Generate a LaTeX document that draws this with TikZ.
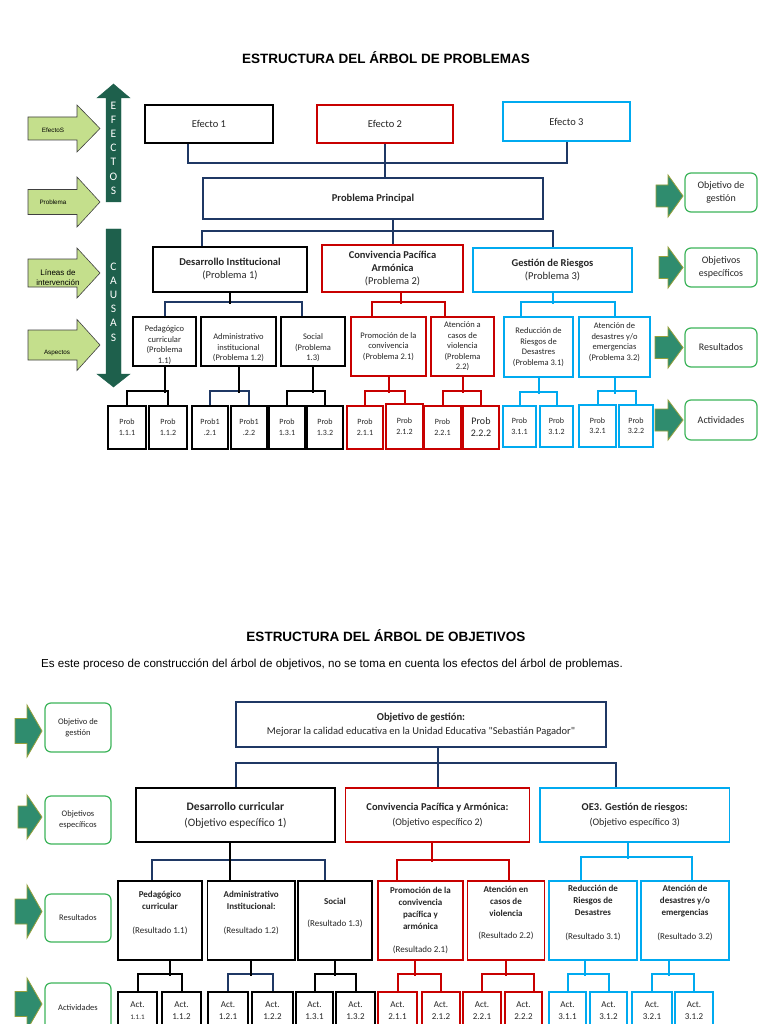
\documentclass[tikz,border=0pt]{standalone}
\usepackage{fontspec}
\setmainfont{Carlito}[Ligatures=TeXOff]
\newfontfamily\arialfont{Liberation Sans}

\definecolor{navy}{RGB}{31,56,100}
\definecolor{treered}{RGB}{200,0,0}
\definecolor{treeblue}{RGB}{0,170,240}
\definecolor{lightgreen}{RGB}{196,223,140}
\definecolor{darkgreen}{RGB}{30,96,76}
\definecolor{tealgreen}{RGB}{47,140,110}
\definecolor{olivegreen}{RGB}{150,160,60}
\definecolor{boxgreen}{RGB}{60,180,90}

\tikzset{
  dims/.style 2 args={minimum width=#1pt, minimum height=#2pt},
  basebox/.style={line width=1.5pt, align=center, inner sep=1pt, text=black!85},
  blackbox/.style={basebox, draw=black},
  redbox/.style={basebox, draw=treered},
  bluebox/.style={basebox, draw=treeblue},
  navybox/.style={basebox, draw=navy},
  greenbox/.style={draw=boxgreen, line width=1.2pt, rounded corners=6pt, align=center, inner sep=1pt, text=black!85},
  blackline/.style={draw=black, line width=2pt},
  navyline/.style={draw=navy, line width=2pt},
  redline/.style={draw=treered, line width=2pt},
  blueline/.style={draw=treeblue, line width=2pt},
  lightarrow/.style={fill=lightgreen, draw=black!75, line width=0.6pt},
  darkarrow/.style={fill=darkgreen, draw=darkgreen},
  tealarrow/.style={fill=tealgreen, draw=olivegreen, line width=0.8pt},
  letters/.style={text=white, align=center, inner sep=0pt, font=\fontsize{11.5}{14.2}\selectfont},
  titletext/.style={font=\arialfont\bfseries\fontsize{13.5}{16}\selectfont},
  fbig/.style={font=\fontsize{10.5}{13}\selectfont},
  fmid/.style={font=\fontsize{8.5}{10.5}\selectfont},
  fprob/.style={font=\fontsize{8}{10.5}\selectfont},
  fres/.style={font=\fontsize{9}{12}\selectfont},
  fside/.style={font=\fontsize{10}{12.5}\selectfont},
  fsmallside/.style={font=\fontsize{8.5}{11}\selectfont},
}

\begin{document}
\begin{tikzpicture}[x=1pt, y=-1pt]
% page
    \fill[white] (0,0) rectangle (768,1024);
    \useasboundingbox (0,0) rectangle (768,1024);

% fat arrow: style, left x, base x, tip x, tip y, half body, half head
    \def\fatarrow#1#2#3#4#5#6#7{\filldraw[#1] (#2,#5-#6) -- (#3,#5-#6) -- (#3,#5-#7) -- (#4,#5) -- (#3,#5+#7) -- (#3,#5+#6) -- (#2,#5+#6) -- cycle;}

%%%%%%%%%%%%%%%% arbol de problemas
    \node[titletext] (title1) at (386,58) {ESTRUCTURA DEL ÁRBOL DE PROBLEMAS};

% light green arrows on the left
    \fatarrow{lightarrow}{28}{77}{100}{128.5}{11.5}{23.5}
    \fatarrow{lightarrow}{28}{77}{100}{202}{12.5}{25}
    \fatarrow{lightarrow}{28}{77}{100}{273}{14}{25}
    \fatarrow{lightarrow}{28}{77}{100}{345}{15}{25.5}
    \node[font=\arialfont\fontsize{6.3}{8}\selectfont] (lefectos) at (53,130) {EfectoS};
    \node[font=\arialfont\fontsize{6.3}{8}\selectfont] (lproblema) at (53,202) {Problema};
    \node[align=center, font=\arialfont\fontsize{8}{10}\selectfont] (llineas) at (58,278) {Líneas de\\intervención};
    \node[font=\arialfont\fontsize{6.3}{8}\selectfont] (laspectos) at (57,353) {Aspectos};

% efectos / causas
    \filldraw[darkarrow] (106,202) -- (106,98) -- (97,98) -- (113.5,84) -- (130,98) -- (121,98) -- (121,202) -- cycle;
    \filldraw[darkarrow] (106,229) -- (106,374) -- (97,374) -- (113.5,387) -- (130,374) -- (121,374) -- (121,229) -- cycle;
    \node[letters] (efectos) at (113.5,148) {E\\F\\E\\C\\T\\O\\S};
    \node[letters] (causas) at (113.5,302) {C\\A\\U\\S\\A\\S};

% efectos
    \node[blackbox, dims={128}{38}, fbig] (e1) at (209,124) {Efecto 1};
    \node[redbox, dims={136}{38}, fbig] (e2) at (385,124) {Efecto 2};
    \node[bluebox, dims={127}{39}, fbig] (e3) at (566.5,121.5) {Efecto 3};
    \node[navybox, dims={340}{41}, font=\bfseries\fontsize{10.5}{13}\selectfont] (pp) at (373,198.5) {Problema Principal};
    \draw[navyline] ([xshift=-21pt]e1.south) -- ++(0,19) -| (e3.south);
    \draw[navyline] (e2.south) -- (e2.south |- pp.north);

% problemas
    \node[blackbox, dims={154}{45}, fbig] (d1) at (230,269.5) {\textbf{Desarrollo Institucional}\\(Problema 1)};
    \node[redbox, dims={141}{47}, fbig] (c2) at (392.5,268.5) {\textbf{Convivencia Pacífica}\\\textbf{Armónica}\\(Problema 2)};
    \node[bluebox, dims={159}{44}, fbig] (g3) at (552.5,270) {\textbf{Gestión de Riesgos}\\(Problema 3)};
    \draw[navyline] ([xshift=-28pt]d1.north) -- ++(0,-15) -| (g3.north);
    \draw[navyline] (c2.north |- pp.south) -- (c2.north);

% aspectos
    \node[blackbox, dims={63}{49}, fmid] (p11) at (164.5,341.5) {\mbox{}\\[3pt]Pedagógico\\curricular\\(Problema\\1.1)};
    \node[blackbox, dims={75}{49}, fmid] (p12) at (238.5,341.5) {\mbox{}\\[8pt]Administrativo\\institucional\\(Problema 1.2)};
    \node[blackbox, dims={64}{49}, fmid] (p13) at (313,341.5) {\mbox{}\\[8pt]Social\\(Problema\\1.3)};
    \node[redbox, dims={75}{59}, fmid] (p21) at (388.5,346.5) {Promoción de la\\convivencia\\(Problema 2.1)};
    \node[redbox, dims={63}{59}, fmid] (p22) at (462.5,346.5) {Atención a\\casos de\\violencia\\(Problema\\2.2)};
    \node[bluebox, dims={69}{60}, fmid] (p31) at (538.5,347) {Reducción de\\Riesgos de\\Desastres\\(Problema 3.1)};
    \node[bluebox, dims={71}{60}, fmid] (p32) at (614.5,347) {Atención de\\desastres y/o\\emergencias\\(Problema 3.2)\\[0pt]\mbox{}};
    \draw[navyline] (p11.north) -- ++(0,-14) -| ([xshift=-11pt]p13.north);
    \draw[blackline] (d1.south) -- ++(0,11);
    \draw[redline] ([xshift=-16.5pt]p21.north) -- ++(0,-14) -| ([xshift=-17.5pt]p22.north);
    \draw[redline] ([xshift=8.5pt]c2.south) -- ++(0,11);
    \draw[blueline] ([xshift=-17.5pt]p31.north) -- ++(0,-14) -| (p32.north);
    \draw[blueline] (g3.south) -- ++(0,11);

% prob boxes
    \node[blackbox, dims={38}{43}, fprob] (r111) at (127,427.5) {Prob\\1.1.1};
    \node[blackbox, dims={38}{43}, fprob] (r112) at (168,427.5) {Prob\\1.1.2};
    \node[blackbox, dims={36}{43}, fprob] (r121) at (210,427.5) {Prob1\\.2.1};
    \node[blackbox, dims={36}{43}, fprob] (r122) at (249,427.5) {Prob1\\.2.2};
    \node[blackbox, dims={36}{43}, fprob] (r131) at (287,427.5) {Prob\\1.3.1};
    \node[blackbox, dims={36}{43}, fprob] (r132) at (325,427.5) {Prob\\1.3.2};
    \node[redbox, dims={36}{43}, fprob] (r211) at (365,427.5) {Prob\\2.1.1};
    \node[redbox, dims={37}{45}, fprob] (r212) at (404.5,426.5) {Prob\\2.1.2};
    \node[redbox, dims={37}{43}, fprob] (r221) at (442.5,427.5) {Prob\\2.2.1};
    \node[redbox, dims={36}{43}, font=\fontsize{10}{12}\selectfont] (r222) at (481,427.5) {Prob\\2.2.2};
    \node[bluebox, dims={33}{41}, fprob] (r311) at (519.5,426.5) {Prob\\3.1.1};
    \node[bluebox, dims={33}{41}, fprob] (r312) at (556.5,426.5) {Prob\\3.1.2};
    \node[bluebox, dims={37}{42}, fprob] (r321) at (597.5,426) {Prob\\3.2.1};
    \node[bluebox, dims={34}{42}, fprob] (r322) at (636,426) {Prob\\3.2.2};
    \draw[blackline] (r111.north) -- ++(0,-14) -| (r112.north);
    \draw[blackline] (p11.south) -- ++(0,26);
    \draw[navyline] (r121.north) -- ++(0,-14) -| (r122.north);
    \draw[blackline] (p12.south) -- ++(0,26);
    \draw[blackline] (r131.north) -- ++(0,-14) -| (r132.north);
    \draw[blackline] (p13.south) -- ++(0,26);
    \draw[redline] (r211.north) -- ++(0,-14) -| (r212.north);
    \draw[redline] (p21.south) -- ++(0,16);
    \draw[redline] (r221.north) -- ++(0,-14) -| (r222.north);
    \draw[redline] (p22.south) -- ++(0,16);
    \draw[blueline] (r311.north) -- ++(0,-13) -| (r312.north);
    \draw[blueline] (p31.south) -- ++(0,16);
    \draw[blueline] (r321.north) -- ++(0,-13) -| (r322.north);
    \draw[blueline] (p32.south) -- ++(0,16);

% right hand side
    \fatarrow{tealarrow}{656}{668}{683}{196}{11}{21}
    \fatarrow{tealarrow}{659}{668}{683}{267.5}{11}{20.5}
    \fatarrow{tealarrow}{655}{668}{683}{347.5}{11}{20.5}
    \fatarrow{tealarrow}{655}{668}{683}{420}{11}{20}
    \node[greenbox, dims={72}{39}, fside] (robjg) at (721,192.5) {Objetivo de\\gestión};
    \node[greenbox, dims={72}{39}, fside] (robje) at (721,267.5) {Objetivos\\específicos};
    \node[greenbox, dims={72}{39}, fside] (rresu) at (721,347.5) {Resultados};
    \node[greenbox, dims={72}{40}, fside] (racti) at (721,420) {Actividades};

%%%%%%%%%%%%%%%% arbol de objetivos
    \node[titletext] (title2) at (386,636) {ESTRUCTURA DEL ÁRBOL DE OBJETIVOS};
    \node[anchor=west, inner sep=0pt, font=\arialfont\fontsize{11.6}{14}\selectfont] (intro) at (41,664) {Es este proceso de construcción del árbol de objetivos, no se toma en cuenta los efectos del árbol de problemas.};

% left hand side
    \fatarrow{tealarrow}{15}{27}{42}{731}{12.5}{26}
    \fatarrow{tealarrow}{18}{27}{42}{817}{11}{22}
    \fatarrow{tealarrow}{15}{27}{42}{911.5}{12.5}{26.5}
    \fatarrow{tealarrow}{15}{27}{42}{1004}{12.5}{26}
    \node[greenbox, dims={66}{49}, fsmallside] (lobjg) at (78,727.5) {Objetivo de\\gestión};
    \node[greenbox, dims={66}{48}, fsmallside] (lobje) at (78,820) {Objetivos\\específicos};
    \node[greenbox, dims={66}{48}, fsmallside] (lresu) at (78,918) {Resultados};
    \node[greenbox, dims={66}{49}, fsmallside] (lacti) at (78,1007.5) {Actividades};

% objetivos
    \node[navybox, dims={370}{45}, font=\fontsize{10.5}{14}\selectfont] (og) at (421,724.5) {{\bfseries\fontsize{10.6}{14}\selectfont Objetivo de gestión:}\\Mejorar la calidad educativa en la Unidad Educativa "Sebastián Pagador"};
    \node[blackbox, dims={199}{54}, font=\fontsize{11.3}{16}\selectfont] (dc) at (235.5,815) {{\bfseries\fontsize{11.5}{16}\selectfont Desarrollo curricular}\\(Objetivo específico 1)};
    \node[redbox, dims={184}{54}, font=\fontsize{10}{15}\selectfont] (cv) at (437.5,815) {{\bfseries\fontsize{10.5}{15}\selectfont Convivencia Pacífica y Armónica:}\\(Objetivo específico 2)};
    \node[bluebox, dims={189.5}{54}, font=\fontsize{10}{15}\selectfont] (oe) at (634.75,815) {{\bfseries\fontsize{10.5}{15}\selectfont OE3. Gestión de riesgos:}\\(Objetivo específico 3)};
    \draw[navyline] (dc.north) -- ++(0,-24) -| ([xshift=-19pt]oe.north);
    \draw[navyline] (cv.north |- og.south) -- (cv.north);

% resultados
    \node[blackbox, dims={84}{79}, fres] (rp11) at (160,920.5) {\textbf{Pedagógico}\\\textbf{curricular}\\[12pt](Resultado 1.1)\\[4pt]\mbox{}};
    \node[blackbox, dims={87.5}{79}, fres] (rp12) at (251.25,920.5) {\textbf{Administrativo}\\\textbf{Institucional:}\\[12pt](Resultado 1.2)\\[4pt]\mbox{}};
    \node[blackbox, dims={74}{79}, fres] (rp13) at (335,920.5) {\textbf{Social}\\[10pt](Resultado 1.3)\\[4pt]\mbox{}};
    \node[redbox, dims={85}{79}, fres] (rp21) at (420.5,920.5) {\textbf{Promoción de la}\\\textbf{convivencia}\\\textbf{pacífica y}\\\textbf{armónica}\\[11pt](Resultado 2.1)};
    \node[redbox, dims={77}{79}, fres] (rp22) at (506,920.5) {\textbf{Atención en}\\\textbf{casos de}\\\textbf{violencia}\\[10pt](Resultado 2.2)\\[4pt]\mbox{}};
    \node[bluebox, dims={88}{79}, fres] (rp31) at (593,920.5) {\textbf{Reducción de}\\\textbf{Riesgos de}\\\textbf{Desastres}\\[12pt](Resultado 3.1)\\[4pt]\mbox{}};
    \node[bluebox, dims={88}{79}, fres] (rp32) at (685,920.5) {\textbf{Atención de}\\\textbf{desastres y/o}\\\textbf{emergencias}\\[12pt](Resultado 3.2)\\[4pt]\mbox{}};
    \draw[navyline] ([xshift=-8.5pt]rp11.north) -- ++(0,-20) -| ([xshift=-10.5pt]rp13.north);
    \draw[blackline] ([xshift=-6pt]dc.south) -- ([xshift=-6pt]dc.south |- rp12.north);
    \draw[redline] ([xshift=-23.5pt]rp21.north) -- ++(0,-20) -| ([xshift=3pt]rp22.north);
    \draw[redline] ([xshift=-6pt]cv.south) -- ++(0,19);
    \draw[blueline] ([xshift=-12.5pt]rp31.north) -- ++(0,-23) -| ([xshift=7pt]rp32.north);
    \draw[blueline] ([xshift=-6.75pt]oe.south) -- ++(0,16);

% actividades
    \node[blackbox, dims={39}{38}, fres] (a111) at (137.5,1011) {Act.\\{\fontsize{7}{9}\selectfont 1.1.1}};
    \node[blackbox, dims={39}{38}, fres] (a112) at (181.5,1011) {Act.\\1.1.2};
    \node[blackbox, dims={40}{38}, fres] (a121) at (228,1011) {Act.\\1.2.1};
    \node[blackbox, dims={41}{38}, fres] (a122) at (272.5,1011) {Act.\\1.2.2};
    \node[blackbox, dims={37}{38}, fres] (a131) at (314.5,1011) {Act.\\1.3.1};
    \node[blackbox, dims={39}{38}, fres] (a132) at (355.5,1011) {Act.\\1.3.2};
    \node[redbox, dims={39}{38}, fres] (a211) at (397.5,1011) {Act.\\2.1.1};
    \node[redbox, dims={38}{38}, fres] (a212) at (441,1011) {Act.\\2.1.2};
    \node[redbox, dims={38}{38}, fres] (a221) at (482,1011) {Act.\\2.2.1};
    \node[redbox, dims={37}{38}, fres] (a222) at (523.5,1011) {Act.\\2.2.2};
    \node[bluebox, dims={37}{38}, fres] (a311) at (567.5,1011) {Act.\\3.1.1};
    \node[bluebox, dims={37}{38}, fres] (a312) at (608.5,1011) {Act.\\3.1.2};
    \node[bluebox, dims={40}{38}, fres] (a321) at (652,1011) {Act.\\3.2.1};
    \node[bluebox, dims={38}{38}, fres] (a322) at (694,1011) {Act.\\3.1.2};
    \draw[blackline] (a111.north) -- ++(0,-17) -| (a112.north);
    \draw[blackline] ([xshift=9.5pt]rp11.south) -- ++(0,15);
    \draw[navyline] (a121.north) -- ++(0,-17) -| (a122.north);
    \draw[blackline] (rp12.south) -- ++(0,15);
    \draw[blackline] (a131.north) -- ++(0,-17) -| (a132.north);
    \draw[blackline] (rp13.south) -- ++(0,15);
    \draw[redline] (a211.north) -- ++(0,-17) -| (a212.north);
    \draw[redline] ([xshift=-5.5pt]rp21.south) -- ++(0,15);
    \draw[redline] (a221.north) -- ++(0,-17) -| ([xshift=10.5pt]a222.north);
    \draw[redline] (rp22.south) -- ++(0,15);
    \draw[blueline] (a311.north) -- ++(0,-17) -| (a312.north);
    \draw[blueline] ([xshift=-8.5pt]rp31.south) -- ++(0,15);
    \draw[blueline] (a321.north) -- ++(0,-17) -| (a322.north);
    \draw[blueline] ([xshift=-16pt]rp32.south) -- ++(0,15);

\end{tikzpicture}
\end{document}
